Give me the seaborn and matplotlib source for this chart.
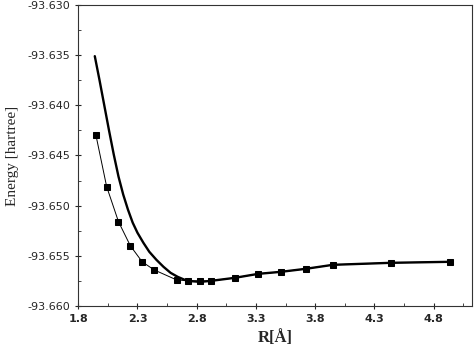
import numpy as np
import pandas as pd
import matplotlib
matplotlib.use("Agg")
import matplotlib.pyplot as plt
import seaborn as sns

# lower curve (with square markers)
r_pts = [1.95, 2.04, 2.14, 2.24, 2.34, 2.44, 2.63, 2.73, 2.83, 2.92,
         3.12, 3.32, 3.51, 3.72, 3.95, 4.44, 4.94]
e_pts = [-93.6430, -93.6481, -93.6516, -93.6540, -93.6556, -93.6564,
         -93.6574, -93.6575, -93.6575, -93.6575, -93.6572, -93.6568,
         -93.6566, -93.6563, -93.6559, -93.6557, -93.6556]

# upper curve (thick, no markers)
r_fit = [1.94, 1.98, 2.02, 2.06, 2.10, 2.14, 2.18, 2.22, 2.26, 2.30,
         2.35, 2.40, 2.46, 2.52, 2.58, 2.64, 2.72, 2.83, 2.92, 3.12,
         3.32, 3.51, 3.72, 3.95, 4.44, 4.94]
e_fit = [-93.6351, -93.6375, -93.6400, -93.6425, -93.6449, -93.6471,
         -93.6489, -93.6504, -93.6517, -93.6527, -93.6537, -93.6546,
         -93.6554, -93.6561, -93.6567, -93.6571, -93.6575, -93.6576,
         -93.6575, -93.6572, -93.6568, -93.6566, -93.6563, -93.6559,
         -93.6557, -93.6556]

x_ticks = [1.8, 2.3, 2.8, 3.3, 3.8, 4.3, 4.8]
y_ticks = [-93.630, -93.635, -93.640, -93.645, -93.650, -93.655, -93.660]

sns.set_style("ticks")
plt.rcParams['font.family'] = ['DejaVu Sans']

fig = plt.figure(figsize=(4.74, 3.57), dpi=100)
ax = fig.add_axes([0.165, 0.143, 0.831, 0.843])

pts = pd.DataFrame({"r": r_pts, "e": e_pts})
fit = pd.DataFrame({"r": r_fit, "e": e_fit})

sns.lineplot(data=fit, x="r", y="e", ax=ax, color="black", lw=1.7)
sns.lineplot(data=pts, x="r", y="e", ax=ax, color="black", lw=0.7,
             marker="s", markersize=4, markeredgecolor="black")

ax.set_xlim(1.8, 5.125)
ax.set_ylim(-93.660, -93.630)
ax.set_xticks(x_ticks)
ax.set_xticklabels([f"{v:.1f}" for v in x_ticks], fontsize=8, fontweight="bold")
ax.set_yticks(y_ticks)
ax.set_yticklabels([f"{v:.3f}" for v in y_ticks], fontsize=8)
ax.set_yticks(np.arange(-93.6575, -93.630, 0.005), minor=True)
ax.set_xticks(np.arange(2.05, 5.1, 0.25), minor=True)
ax.tick_params(axis="both", direction="inout", length=5, width=0.8)
ax.tick_params(which="minor", direction="in", length=2, width=0.6)

for s in ax.spines.values():
    s.set_visible(True)
    s.set_linewidth(0.8)
    s.set_color("#333333")

ax.set_xlabel("R[Å]", family="Liberation Serif", fontsize=12, fontweight="bold")
ax.set_ylabel("Energy [hartree]", family="Liberation Serif", fontsize=11, labelpad=6)

fig.savefig("out.png", dpi=100)
